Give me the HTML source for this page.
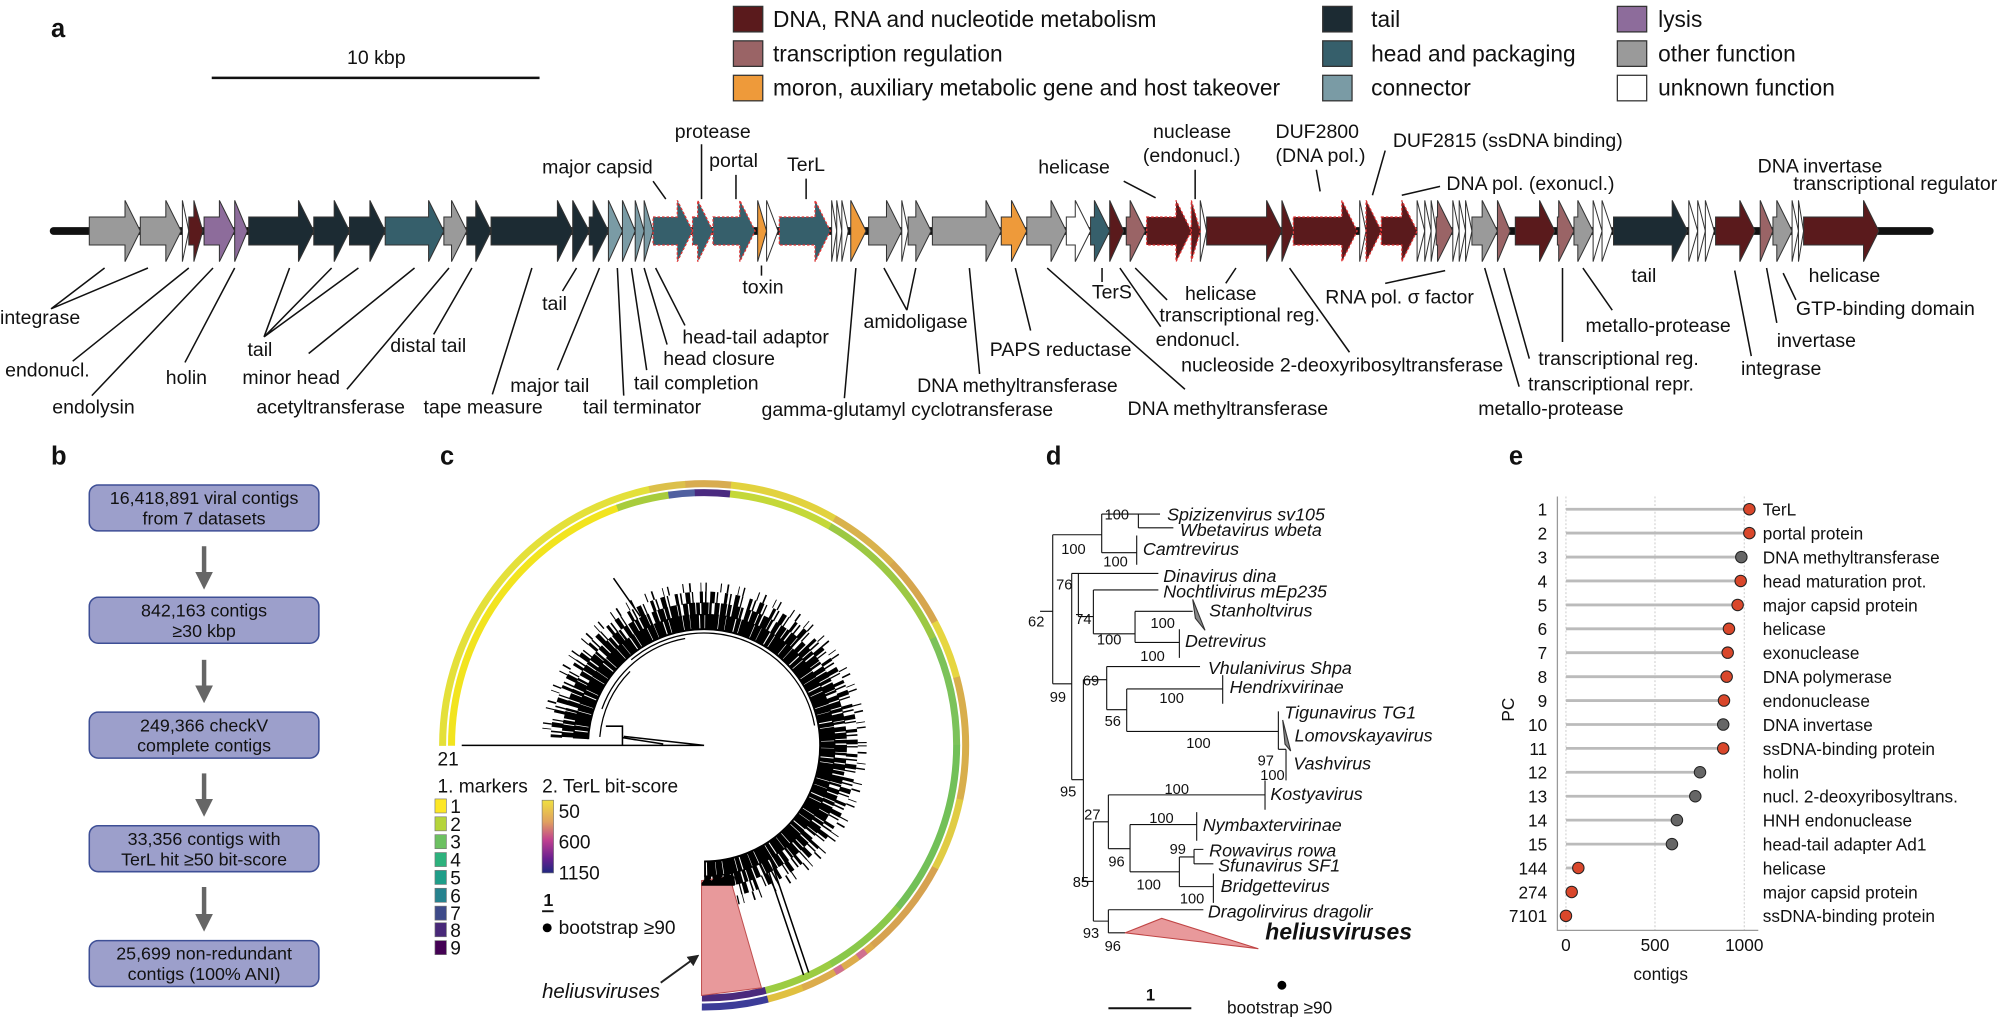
<!DOCTYPE html>
<html><head><meta charset="utf-8"><style>
html,body{margin:0;padding:0;background:#fff;overflow:hidden;width:2000px;height:1021px}
svg{display:block}
text{font-family:"Liberation Sans",Arial,sans-serif;fill:#111}
.a{font-size:15.3px}
.lg{font-size:17.8px}
.ll{stroke:#111;stroke-width:1.2;fill:none}
.g{stroke:#333;stroke-width:0.8}
.r{stroke:#e03535;stroke-width:1;stroke-dasharray:2 1.5}
.bt{font-size:11.5px}
.lf{font-size:14px;font-style:italic}
.e{font-size:13.5px}
</style></head><body>
<svg width="2000" height="1021" viewBox="0 0 1568 800" preserveAspectRatio="none" xmlns="http://www.w3.org/2000/svg">
<rect width="1568" height="800" fill="#fff"/>
<text x="40" y="29" style="font-size:20px;font-weight:bold">a</text>
<text x="40" y="364" style="font-size:20px;font-weight:bold">b</text>
<text x="345" y="364" style="font-size:20px;font-weight:bold">c</text>
<text x="820" y="364" style="font-size:20px;font-weight:bold">d</text>
<text x="1183" y="364" style="font-size:20px;font-weight:bold">e</text>

<text x="295" y="50" class="a" text-anchor="middle">10 kbp</text>
<line x1="166" y1="61" x2="423" y2="61" stroke="#111" stroke-width="2"/>

<g class="lg">
<rect x="575" y="5" width="23" height="20" fill="#5a1a1c" stroke="#333"/><text x="606" y="21">DNA, RNA and nucleotide metabolism</text>
<rect x="575" y="32" width="23" height="20" fill="#9a6466" stroke="#333"/><text x="606" y="48">transcription regulation</text>
<rect x="575" y="59" width="23" height="20" fill="#ee9a3a" stroke="#333"/><text x="606" y="75">moron, auxiliary metabolic gene and host takeover</text>
<rect x="1037" y="5" width="23" height="20" fill="#1c2b33" stroke="#333"/><text x="1075" y="21">tail</text>
<rect x="1037" y="32" width="23" height="20" fill="#365f6b" stroke="#333"/><text x="1075" y="48">head and packaging</text>
<rect x="1037" y="59" width="23" height="20" fill="#7a9ba5" stroke="#333"/><text x="1075" y="75">connector</text>
<rect x="1268" y="5" width="23" height="20" fill="#8d6c9b" stroke="#333"/><text x="1300" y="21">lysis</text>
<rect x="1268" y="32" width="23" height="20" fill="#9a9a9a" stroke="#333"/><text x="1300" y="48">other function</text>
<rect x="1268" y="59" width="23" height="20" fill="#fff" stroke="#333"/><text x="1300" y="75">unknown function</text>
</g>

<line x1="42" y1="181" x2="1513" y2="181" stroke="#111" stroke-width="6" stroke-linecap="round"/>
<g class="g">
<polygon points="70,170 98,170 98,157 110,181 98,205 98,192 70,192" fill="#9a9a9a"/>
<polygon points="110,170 130,170 130,157 142,181 130,205 130,192 110,192" fill="#9a9a9a"/>
<polygon points="143,157 148,181 143,205" fill="#fff"/>
<polygon points="148,170 152,170 152,157 159,181 152,205 152,192 148,192" fill="#5a1a1c"/>
<polygon points="160,170 172,170 172,157 184,181 172,205 172,192 160,192" fill="#8d6c9b"/>
<polygon points="184,157 194,181 184,205" fill="#8d6c9b"/>
<polygon points="195,170 234,170 234,157 246,181 234,205 234,192 195,192" fill="#1c2b33"/>
<polygon points="246,170 262,170 262,157 274,181 262,205 262,192 246,192" fill="#1c2b33"/>
<polygon points="274,170 290,170 290,157 302,181 290,205 290,192 274,192" fill="#1c2b33"/>
<polygon points="302,170 336,170 336,157 348,181 336,205 336,192 302,192" fill="#365f6b"/>
<polygon points="348,170 354,170 354,157 366,181 354,205 354,192 348,192" fill="#9a9a9a"/>
<polygon points="366,170 373,170 373,157 385,181 373,205 373,192 366,192" fill="#1c2b33"/>
<polygon points="385,170 437,170 437,157 449,181 437,205 437,192 385,192" fill="#1c2b33"/>
<polygon points="449,157 462,181 449,205" fill="#1c2b33"/>
<polygon points="462,170 465,170 465,157 477,181 465,205 465,192 462,192" fill="#1c2b33"/>
<polygon points="477,157 488,181 477,205" fill="#7a9ba5"/>
<polygon points="488,157 498,181 488,205" fill="#7a9ba5"/>
<polygon points="498,157 505,181 498,205" fill="#7a9ba5"/>
<polygon points="505,157 512,181 505,205" fill="#7a9ba5"/>
<polygon points="652,157 656,181 652,205" fill="#fff"/>
<polygon points="656,157 660,181 656,205" fill="#fff"/>
<polygon points="660,157 665,181 660,205" fill="#fff"/>
<polygon points="594,157 601,181 594,205" fill="#ee9a3a"/>
<polygon points="601,157 610,181 601,205" fill="#fff"/>
<polygon points="667,157 679,181 667,205" fill="#ee9a3a"/>
<polygon points="681,170 695,170 695,157 707,181 695,205 695,192 681,192" fill="#9a9a9a"/>
<polygon points="707,157 712,181 707,205" fill="#fff"/>
<polygon points="712,170 718,170 718,157 730,181 718,205 718,192 712,192" fill="#9a9a9a"/>
<polygon points="731,170 773,170 773,157 785,181 773,205 773,192 731,192" fill="#9a9a9a"/>
<polygon points="785,170 793,170 793,157 805,181 793,205 793,192 785,192" fill="#ee9a3a"/>
<polygon points="805,170 824,170 824,157 836,181 824,205 824,192 805,192" fill="#9a9a9a"/>
<polygon points="836,170 843,170 843,157 855,181 843,205 843,192 836,192" fill="#fff"/>
<polygon points="855,170 858,170 858,157 870,181 858,205 858,192 855,192" fill="#365f6b"/>
<polygon points="870,157 881,181 870,205" fill="#5a1a1c"/>
<polygon points="883,170 886,170 886,157 898,181 886,205 886,192 883,192" fill="#9a6466"/>
<polygon points="941,157 946,181 941,205" fill="#fff"/>
<polygon points="946,170 993,170 993,157 1005,181 993,205 993,192 946,192" fill="#5a1a1c"/>
<polygon points="1005,157 1014,181 1005,205" fill="#5a1a1c"/>
<polygon points="1066,157 1071,181 1066,205" fill="#fff"/>
<polygon points="1111,157 1117,181 1111,205" fill="#fff"/>
<polygon points="1117,157 1122,181 1117,205" fill="#fff"/>
<polygon points="1122,157 1126,181 1122,205" fill="#fff"/>
<polygon points="1126,170 1127,170 1127,157 1139,181 1127,205 1127,192 1126,192" fill="#9a6466"/>
<polygon points="1139,157 1144,181 1139,205" fill="#fff"/>
<polygon points="1144,157 1149,181 1144,205" fill="#fff"/>
<polygon points="1149,157 1154,181 1149,205" fill="#fff"/>
<polygon points="1154,170 1162,170 1162,157 1174,181 1162,205 1162,192 1154,192" fill="#9a9a9a"/>
<polygon points="1174,157 1184,181 1174,205" fill="#9a6466"/>
<polygon points="1188,170 1207,170 1207,157 1219,181 1207,205 1207,192 1188,192" fill="#5a1a1c"/>
<polygon points="1221,170 1222,170 1222,157 1234,181 1222,205 1222,192 1221,192" fill="#9a6466"/>
<polygon points="1234,170 1237,170 1237,157 1249,181 1237,205 1237,192 1234,192" fill="#9a9a9a"/>
<polygon points="1249,157 1256,181 1249,205" fill="#fff"/>
<polygon points="1256,157 1264,181 1256,205" fill="#fff"/>
<polygon points="1265,170 1311,170 1311,157 1323,181 1311,205 1311,192 1265,192" fill="#1c2b33"/>
<polygon points="1324,157 1331,181 1324,205" fill="#fff"/>
<polygon points="1331,157 1337,181 1331,205" fill="#fff"/>
<polygon points="1337,157 1344,181 1337,205" fill="#fff"/>
<polygon points="1345,170 1364,170 1364,157 1376,181 1364,205 1364,192 1345,192" fill="#5a1a1c"/>
<polygon points="1380,157 1390,181 1380,205" fill="#9a6466"/>
<polygon points="1390,170 1393,170 1393,157 1405,181 1393,205 1393,192 1390,192" fill="#9a9a9a"/>
<polygon points="1405,157 1410,181 1405,205" fill="#fff"/>
<polygon points="1410,157 1414,181 1410,205" fill="#fff"/>
<polygon points="1414,170 1461,170 1461,157 1473,181 1461,205 1461,192 1414,192" fill="#5a1a1c"/>
</g>
<g class="r">
<polygon points="512,170 531,170 531,157 543,181 531,205 531,192 512,192" fill="#365f6b"/>
<polygon points="543,170 547,170 547,157 559,181 547,205 547,192 543,192" fill="#365f6b"/>
<polygon points="559,170 580,170 580,157 592,181 580,205 580,192 559,192" fill="#365f6b"/>
<polygon points="611,170 639,170 639,157 651,181 639,205 639,192 611,192" fill="#365f6b"/>
<polygon points="899,170 922,170 922,157 934,181 922,205 922,192 899,192" fill="#5a1a1c"/>
<polygon points="934,157 941,181 934,205" fill="#5a1a1c"/>
<polygon points="1014,170 1052,170 1052,157 1064,181 1052,205 1052,192 1014,192" fill="#5a1a1c"/>
<polygon points="1071,157 1083,181 1071,205" fill="#5a1a1c"/>
<polygon points="1083,170 1099,170 1099,157 1111,181 1099,205 1099,192 1083,192" fill="#5a1a1c"/>
</g>

<path class="ll" d="M512,142L522,156 M550,113L550,156 M577,137L577,156 M632,140L632,156 M881,142L906,155 M937,133L937,156 M1032,133L1035,150 M1086,118L1076,153 M1099,153L1129,146
M40,242L82,210 M40,242L116,210 M57,283L148,210 M72,310L167,210 M145,284L184,210 M207,264L227,210 M207,264L260,210 M207,264L281,210 M242,277L325,210 M272,305L352,210 M340,262L370,210 M386,309L417,210 M441,228L452,210 M437,290L470,210 M489,310L484,210 M507,290L495,210 M523,270L505,210 M537,255L514,210 M597,208L597,216 M662,312L671,210 M711,243L693,210 M711,243L718,210 M768,293L760,210
M796,210L808,259 M821,210L929,305 M864,210L864,221 M969,210L961,222 M890,210L915,235 M878,210L910,256 M1011,210L1058,276 M1086,222L1133,212 M1164,210L1191,303 M1179,210L1199,281 M1241,210L1264,243 M1225,210L1225,268 M1360,212L1373,279 M1385,210L1393,253 M1398,214L1408,235"/>
<g class="a">
<text x="425" y="136">major capsid</text>
<text x="529" y="108">protease</text>
<text x="556" y="131">portal</text>
<text x="617" y="134">TerL</text>
<text x="814" y="136">helicase</text>
<text x="904" y="108">nuclease</text>
<text x="896" y="127">(endonucl.)</text>
<text x="1000" y="108">DUF2800</text>
<text x="1000" y="127">(DNA pol.)</text>
<text x="1092" y="115">DUF2815 (ssDNA binding)</text>
<text x="1134" y="149">DNA pol. (exonucl.)</text>
<text x="1378" y="135">DNA invertase</text>
<text x="1406" y="149">transcriptional regulator</text>
<text x="0" y="254">integrase</text>
<text x="4" y="295">endonucl.</text>
<text x="41" y="324">endolysin</text>
<text x="130" y="301">holin</text>
<text x="194" y="279">tail</text>
<text x="190" y="301">minor head</text>
<text x="201" y="324">acetyltransferase</text>
<text x="306" y="276">distal tail</text>
<text x="332" y="324">tape measure</text>
<text x="425" y="243">tail</text>
<text x="400" y="307">major tail</text>
<text x="457" y="324">tail terminator</text>
<text x="497" y="305">tail completion</text>
<text x="520" y="286">head closure</text>
<text x="535" y="269">head-tail adaptor</text>
<text x="582" y="230">toxin</text>
<text x="597" y="326">gamma-glutamyl cyclotransferase</text>
<text x="677" y="257">amidoligase</text>
<text x="719" y="307">DNA methyltransferase</text>
<text x="776" y="279">PAPS reductase</text>
<text x="884" y="325">DNA methyltransferase</text>
<text x="856" y="234">TerS</text>
<text x="929" y="235">helicase</text>
<text x="909" y="252">transcriptional reg.</text>
<text x="906" y="271">endonucl.</text>
<text x="926" y="291">nucleoside 2-deoxyribosyltransferase</text>
<text x="1039" y="238">RNA pol. σ factor</text>
<text x="1159" y="325">metallo-protease</text>
<text x="1206" y="286">transcriptional reg.</text>
<text x="1198" y="306">transcriptional repr.</text>
<text x="1243" y="260">metallo-protease</text>
<text x="1279" y="221">tail</text>
<text x="1365" y="294">integrase</text>
<text x="1393" y="272">invertase</text>
<text x="1408" y="247">GTP-binding domain</text>
<text x="1418" y="221">helicase</text>
</g>

<defs>
<marker id="ah" markerWidth="4" markerHeight="4" refX="2" refY="2" orient="auto" markerUnits="strokeWidth"><path d="M0,0L4,2L0,4z" fill="#666"/></marker>
<marker id="ah2" markerWidth="6" markerHeight="6" refX="5" refY="3" orient="auto" markerUnits="strokeWidth"><path d="M0,0L6,3L0,6z" fill="#222"/></marker>
<linearGradient id="cb" x1="0" y1="0" x2="0" y2="1">
<stop offset="0" stop-color="#f0e040"/><stop offset="0.3" stop-color="#e0a060"/><stop offset="0.55" stop-color="#c04090"/><stop offset="0.8" stop-color="#6a2090"/><stop offset="1" stop-color="#202880"/></linearGradient>
<clipPath id="cw"><polygon points="552,584 252,568 252,270 860,270 860,890 552,884"/></clipPath>
</defs>
<g fill="#9c9fcb" stroke="#3e4f96" stroke-width="1.2">
<rect x="70" y="380" width="180" height="36" rx="7"/>
<rect x="70" y="468" width="180" height="36" rx="7"/>
<rect x="70" y="558" width="180" height="36" rx="7"/>
<rect x="70" y="647" width="180" height="36" rx="7"/>
<rect x="70" y="737" width="180" height="36" rx="7"/>
</g>
<g stroke="#666" stroke-width="3.5" marker-end="url(#ah)">
<line x1="160" y1="428" x2="160" y2="455"/>
<line x1="160" y1="517" x2="160" y2="544"/>
<line x1="160" y1="606" x2="160" y2="633"/>
<line x1="160" y1="695" x2="160" y2="723"/>
</g>
<g style="font-size:14px" text-anchor="middle">
<text x="160" y="395">16,418,891 viral contigs</text><text x="160" y="411">from 7 datasets</text>
<text x="160" y="483">842,163 contigs</text><text x="160" y="499">≥30 kbp</text>
<text x="160" y="573">249,366 checkV</text><text x="160" y="589">complete contigs</text>
<text x="160" y="662">33,356 contigs with</text><text x="160" y="678">TerL hit ≥50 bit-score</text>
<text x="160" y="752">25,699 non-redundant</text><text x="160" y="768">contigs (100% ANI)</text>
</g>

<g fill="none" stroke-width="5.5">
<circle cx="552" cy="584" r="205" pathLength="360" stroke="#e4e03a" stroke-dasharray="78 282" transform="rotate(180 552 584)"/>
<circle cx="552" cy="584" r="205" pathLength="360" stroke="#dcc04a" stroke-dasharray="8 352" transform="rotate(258 552 584)"/>
<circle cx="552" cy="584" r="205" pathLength="360" stroke="#d8ac50" stroke-dasharray="10 350" transform="rotate(266 552 584)"/>
<circle cx="552" cy="584" r="205" pathLength="360" stroke="#e2d23e" stroke-dasharray="24 336" transform="rotate(276 552 584)"/>
<circle cx="552" cy="584" r="205" pathLength="360" stroke="#d9b24c" stroke-dasharray="16 344" transform="rotate(300 552 584)"/>
<circle cx="552" cy="584" r="205" pathLength="360" stroke="#d6a64e" stroke-dasharray="16 344" transform="rotate(316 552 584)"/>
<circle cx="552" cy="584" r="205" pathLength="360" stroke="#e6d640" stroke-dasharray="13 347" transform="rotate(332 552 584)"/>
<circle cx="552" cy="584" r="205" pathLength="360" stroke="#d8ae4c" stroke-dasharray="27 333" transform="rotate(345 552 584)"/>
<circle cx="552" cy="584" r="205" pathLength="360" stroke="#e0cc44" stroke-dasharray="16 344" transform="rotate(12 552 584)"/>
<circle cx="552" cy="584" r="205" pathLength="360" stroke="#d6a250" stroke-dasharray="22 338" transform="rotate(28 552 584)"/>
<circle cx="552" cy="584" r="205" pathLength="360" stroke="#dcac4c" stroke-dasharray="18 342" transform="rotate(50 552 584)"/>
<circle cx="552" cy="584" r="205" pathLength="360" stroke="#d07090" stroke-dasharray="2 4 2 352" transform="rotate(52 552 584)"/>
<circle cx="552" cy="584" r="205" pathLength="360" stroke="#e0c040" stroke-dasharray="8 352" transform="rotate(68 552 584)"/>
<circle cx="552" cy="584" r="205" pathLength="360" stroke="#3c3c98" stroke-dasharray="14.5 345.5" transform="rotate(76 552 584)"/>
<circle cx="552" cy="584" r="198" pathLength="360" stroke="#f2e41e" stroke-dasharray="70 290" transform="rotate(180 552 584)"/>
<circle cx="552" cy="584" r="198" pathLength="360" stroke="#a8cc3c" stroke-dasharray="12 348" transform="rotate(250 552 584)"/>
<circle cx="552" cy="584" r="198" pathLength="360" stroke="#5060a0" stroke-dasharray="6 354" transform="rotate(262 552 584)"/>
<circle cx="552" cy="584" r="198" pathLength="360" stroke="#4a2a80" stroke-dasharray="8 352" transform="rotate(268 552 584)"/>
<circle cx="552" cy="584" r="198" pathLength="360" stroke="#c4d838" stroke-dasharray="24 336" transform="rotate(276 552 584)"/>
<circle cx="552" cy="584" r="198" pathLength="360" stroke="#9cc843" stroke-dasharray="35 325" transform="rotate(300 552 584)"/>
<circle cx="552" cy="584" r="198" pathLength="360" stroke="#7cc25a" stroke-dasharray="25 335" transform="rotate(335 552 584)"/>
<circle cx="552" cy="584" r="198" pathLength="360" stroke="#72c058" stroke-dasharray="40 320" transform="rotate(0 552 584)"/>
<circle cx="552" cy="584" r="198" pathLength="360" stroke="#8ac84a" stroke-dasharray="20 340" transform="rotate(40 552 584)"/>
<circle cx="552" cy="584" r="198" pathLength="360" stroke="#9ccc42" stroke-dasharray="16 344" transform="rotate(60 552 584)"/>
<circle cx="552" cy="584" r="198" pathLength="360" stroke="#4a2a7c" stroke-dasharray="14.5 345.5" transform="rotate(76 552 584)"/>
</g>
<g clip-path="url(#cw)" fill="none" stroke="#000">
<circle cx="552" cy="584" r="97" stroke-width="12" pathLength="360" stroke-dasharray="6 0.3 3 0.2 4 0.5 2 0.3" transform="rotate(10 552 584)"/>
<circle cx="552" cy="584" r="107" stroke-width="10" pathLength="360" stroke-dasharray="2.5 0.4 1.5 0.6 3 0.3 1 1.2 2 0.5" transform="rotate(30 552 584)"/>
<circle cx="552" cy="584" r="116" stroke-width="9" pathLength="360" stroke-dasharray="1.2 0.8 0.6 1.4 1.8 0.7 0.5 2.5" transform="rotate(50 552 584)"/>
<circle cx="552" cy="584" r="124" stroke-width="7" pathLength="360" stroke-dasharray="0.4 2 0.6 3.5 0.3 1.5 0.5 5"/>
<circle cx="552" cy="584" r="91" stroke-width="1.5"/>
<circle cx="552" cy="584" r="88" stroke-width="1" pathLength="360" stroke-dasharray="120 240" transform="rotate(230 552 584)"/>
<circle cx="552" cy="584" r="85" stroke-width="1" pathLength="360" stroke-dasharray="60 300" transform="rotate(200 552 584)"/>
<circle cx="552" cy="584" r="82" stroke-width="1" pathLength="360" stroke-dasharray="40 320" transform="rotate(185 552 584)"/>
</g>
<path d="M362,584H552 M475,569H488V584 M488,578L520,583 M489,577L552,584 M481,453L502,483 M604,673L634,762 M600,675L630,764" stroke="#000" stroke-width="1.2" fill="none"/>
<polygon points="550,690 572,687 597,774 550,780" fill="#e8999b" stroke="#c05050" stroke-width="0.8"/>
<path d="M550,692 l4,-5 l4,3 l4,-5 l4,3 l4,-4 l4,2 l2,1 v7 h-26z" fill="#000"/>
<text x="425" y="782" style="font-size:16px;font-style:italic">heliusviruses</text>
<line x1="518" y1="770" x2="547" y2="749" stroke="#222" stroke-width="1.5" marker-end="url(#ah2)"/>
<text x="343" y="600" style="font-size:15px">21</text>
<text x="343" y="621" style="font-size:15px">1. markers</text>
<g stroke="#777" stroke-width="0.5">
<rect x="341" y="626" width="9" height="11" fill="#fde725"/>
<rect x="341" y="640" width="9" height="11" fill="#b5d43a"/>
<rect x="341" y="654" width="9" height="11" fill="#6cc061"/>
<rect x="341" y="668" width="9" height="11" fill="#2db27d"/>
<rect x="341" y="682" width="9" height="11" fill="#1f9e89"/>
<rect x="341" y="696" width="9" height="11" fill="#26828e"/>
<rect x="341" y="710" width="9" height="11" fill="#3e4a89"/>
<rect x="341" y="723" width="9" height="11" fill="#482878"/>
<rect x="341" y="737" width="9" height="11" fill="#440154"/>
</g>
<g style="font-size:15px">
<text x="353" y="637">1</text><text x="353" y="651">2</text><text x="353" y="665">3</text><text x="353" y="679">4</text><text x="353" y="693">5</text><text x="353" y="707">6</text><text x="353" y="721">7</text><text x="353" y="734">8</text><text x="353" y="748">9</text>
</g>
<text x="425" y="621" style="font-size:15px">2. TerL bit-score</text>
<rect x="425" y="627" width="9" height="57" fill="url(#cb)" stroke="#777" stroke-width="0.5"/>
<g style="font-size:15px"><text x="438" y="641">50</text><text x="438" y="665">600</text><text x="438" y="689">1150</text></g>
<text x="426" y="710" style="font-size:14px;font-weight:bold">1</text>
<line x1="425" y1="714" x2="434" y2="714" stroke="#111" stroke-width="1.5"/>
<circle cx="429" cy="727" r="3.5" fill="#000"/>
<text x="438" y="732" style="font-size:15px">bootstrap ≥90</text>

<g transform="translate(815.4,376.3) scale(0.2613,0.2703)" fill="none" stroke="#111" stroke-width="1.1">
<path vector-effect="non-scaling-stroke" d="M0,380H38 M38,158V590 M38,158H185 M185,98V210 M185,98H295 M295,98V138 M295,98H360 M295,138H400 M185,210H290 M290,160V245
M38,590H95 M95,270V868 M95,270H115 M115,270V395 M115,270H355 M115,395H160 M160,318V445 M160,318H355 M160,445H285 M285,380V470 M285,380H458 M285,470H418 M418,432V515
M95,868H130 M130,578V1163 M130,578H200 M200,540V665 M200,540H480 M200,665H260 M260,605V728 M260,605H548 M548,565V648 M260,728H715 M715,670V780 M715,780H738 M738,780V870
M130,1163H160 M160,990V1278 M160,990H205 M205,912V1068 M205,912H675 M675,870V955 M205,1068H270 M270,998V1135 M270,998H470 M470,962V1045 M270,1135H418 M418,1092V1178 M418,1092H462 M462,1070V1112 M462,1070H490 M462,1112H520 M418,1178H520 M520,1140V1225
M160,1278H205 M205,1245V1312 M205,1245H490 M205,1312H255"/>
<polygon points="458,345 466,400 495,435" fill="#888" stroke="#333" vector-effect="non-scaling-stroke"/>
<polygon points="728,695 735,765 752,785" fill="#888" stroke="#333" vector-effect="non-scaling-stroke"/>
<polygon points="255,1312 365,1270 655,1358" fill="#e8999b" stroke="#c04545" vector-effect="non-scaling-stroke"/>
</g>
<g class="lf">
<text x="915" y="408">Spizizenvirus sv105</text>
<text x="925" y="420">Wbetavirus wbeta</text>
<text x="896" y="435">Camtrevirus</text>
<text x="912" y="456">Dinavirus dina</text>
<text x="912" y="468">Nochtlivirus mEp235</text>
<text x="948" y="483">Stanholtvirus</text>
<text x="929" y="507">Detrevirus</text>
<text x="947" y="528">Vhulanivirus Shpa</text>
<text x="964" y="543">Hendrixvirinae</text>
<text x="1007" y="563">Tigunavirus TG1</text>
<text x="1015" y="581">Lomovskayavirus</text>
<text x="1014" y="603">Vashvirus</text>
<text x="996" y="627">Kostyavirus</text>
<text x="943" y="651">Nymbaxtervirinae</text>
<text x="948" y="671">Rowavirus rowa</text>
<text x="955" y="683">Sfunavirus SF1</text>
<text x="957" y="699">Bridgettevirus</text>
<text x="947" y="719">Dragolirvirus dragolir</text>
</g>
<text x="992" y="736" style="font-size:18px;font-weight:bold;font-style:italic">heliusviruses</text>
<g class="bt">
<text x="866" y="407">100</text><text x="832" y="434">100</text><text x="865" y="444">100</text>
<text x="828" y="462">76</text><text x="843" y="489">74</text><text x="860" y="505">100</text>
<text x="902" y="492">100</text><text x="894" y="518">100</text><text x="806" y="491">62</text>
<text x="823" y="550">99</text><text x="849" y="537">69</text><text x="866" y="569">56</text>
<text x="909" y="551">100</text><text x="930" y="586">100</text><text x="986" y="600">97</text>
<text x="988" y="611">100</text><text x="831" y="624">95</text><text x="913" y="622">100</text>
<text x="850" y="642">27</text><text x="901" y="645">100</text><text x="917" y="669">99</text>
<text x="869" y="679">96</text><text x="841" y="695">85</text><text x="891" y="697">100</text>
<text x="925" y="708">100</text><text x="849" y="735">93</text><text x="866" y="745">96</text>
</g>
<line x1="869" y1="790" x2="934" y2="790" stroke="#111" stroke-width="1.5"/>
<text x="902" y="784" text-anchor="middle" style="font-size:13px;font-weight:bold">1</text>
<circle cx="1005" cy="772" r="3.5" fill="#000"/>
<text x="962" y="794" style="font-size:13.5px">bootstrap ≥90</text>

<g stroke="#ccc" stroke-width="0.8" stroke-dasharray="1.5 1.5">
<line x1="1227.7" y1="389" x2="1227.7" y2="729"/><line x1="1297.5" y1="389" x2="1297.5" y2="729"/><line x1="1367.5" y1="389" x2="1367.5" y2="729"/>
</g>
<path d="M1221,389V729H1378.5" stroke="#999" stroke-width="1" fill="none"/>
<g stroke="#bbb" stroke-width="2.2">
<line x1="1227.7" y1="399" x2="1371" y2="399"/><line x1="1227.7" y1="417.7" x2="1371" y2="417.7"/><line x1="1227.7" y1="436.5" x2="1365" y2="436.5"/><line x1="1227.7" y1="455.2" x2="1364" y2="455.2"/><line x1="1227.7" y1="474" x2="1362" y2="474"/><line x1="1227.7" y1="492.7" x2="1355" y2="492.7"/><line x1="1227.7" y1="511.4" x2="1354" y2="511.4"/><line x1="1227.7" y1="530.2" x2="1353" y2="530.2"/><line x1="1227.7" y1="548.9" x2="1351" y2="548.9"/><line x1="1227.7" y1="567.7" x2="1351" y2="567.7"/><line x1="1227.7" y1="586.4" x2="1351" y2="586.4"/><line x1="1227.7" y1="605.1" x2="1333" y2="605.1"/><line x1="1227.7" y1="623.9" x2="1329" y2="623.9"/><line x1="1227.7" y1="642.6" x2="1315" y2="642.6"/><line x1="1227.7" y1="661.4" x2="1311" y2="661.4"/><line x1="1227.7" y1="680.1" x2="1237" y2="680.1"/>
</g>
<g stroke="#222" stroke-width="0.8">
<circle cx="1371.5" cy="399" r="4.5" fill="#d9472b"/><circle cx="1371.5" cy="417.7" r="4.5" fill="#d9472b"/><circle cx="1365.2" cy="436.5" r="4.5" fill="#666"/><circle cx="1364.7" cy="455.2" r="4.5" fill="#d9472b"/><circle cx="1362.3" cy="474" r="4.5" fill="#d9472b"/><circle cx="1355.5" cy="492.7" r="4.5" fill="#d9472b"/><circle cx="1354.5" cy="511.4" r="4.5" fill="#d9472b"/><circle cx="1353.7" cy="530.2" r="4.5" fill="#d9472b"/><circle cx="1351.6" cy="548.9" r="4.5" fill="#d9472b"/><circle cx="1351" cy="567.7" r="4.5" fill="#666"/><circle cx="1351" cy="586.4" r="4.5" fill="#d9472b"/><circle cx="1332.8" cy="605.1" r="4.5" fill="#666"/><circle cx="1329.1" cy="623.9" r="4.5" fill="#666"/><circle cx="1314.7" cy="642.6" r="4.5" fill="#666"/><circle cx="1310.8" cy="661.4" r="4.5" fill="#666"/><circle cx="1237.4" cy="680.1" r="4.5" fill="#d9472b"/><circle cx="1232.2" cy="698.9" r="4.5" fill="#d9472b"/><circle cx="1227.7" cy="717.6" r="4.5" fill="#d9472b"/>
</g>
<g class="e" text-anchor="end">
<text x="1213" y="404">1</text><text x="1213" y="422.7">2</text><text x="1213" y="441.5">3</text><text x="1213" y="460.2">4</text><text x="1213" y="479">5</text><text x="1213" y="497.7">6</text><text x="1213" y="516.4">7</text><text x="1213" y="535.2">8</text><text x="1213" y="553.9">9</text><text x="1213" y="572.7">10</text><text x="1213" y="591.4">11</text><text x="1213" y="610.1">12</text><text x="1213" y="628.9">13</text><text x="1213" y="647.6">14</text><text x="1213" y="666.4">15</text><text x="1213" y="685.1">144</text><text x="1213" y="703.9">274</text><text x="1213" y="722.6">7101</text>
</g>
<g class="e">
<text x="1382" y="404">TerL</text><text x="1382" y="422.7">portal protein</text><text x="1382" y="441.5">DNA methyltransferase</text><text x="1382" y="460.2">head maturation prot.</text><text x="1382" y="479">major capsid protein</text><text x="1382" y="497.7">helicase</text><text x="1382" y="516.4">exonuclease</text><text x="1382" y="535.2">DNA polymerase</text><text x="1382" y="553.9">endonuclease</text><text x="1382" y="572.7">DNA invertase</text><text x="1382" y="591.4">ssDNA-binding protein</text><text x="1382" y="610.1">holin</text><text x="1382" y="628.9">nucl. 2-deoxyribosyltrans.</text><text x="1382" y="647.6">HNH endonuclease</text><text x="1382" y="666.4">head-tail adapter Ad1</text><text x="1382" y="685.1">helicase</text><text x="1382" y="703.9">major capsid protein</text><text x="1382" y="722.6">ssDNA-binding protein</text>
</g>
<g class="e" text-anchor="middle">
<text x="1227.7" y="745">0</text><text x="1297.5" y="745">500</text><text x="1367.5" y="745">1000</text><text x="1302" y="768">contigs</text>
</g>
<text x="1187" y="556" class="e" transform="rotate(-90 1187 556)" text-anchor="middle">PC</text>
</svg>
</body></html>
